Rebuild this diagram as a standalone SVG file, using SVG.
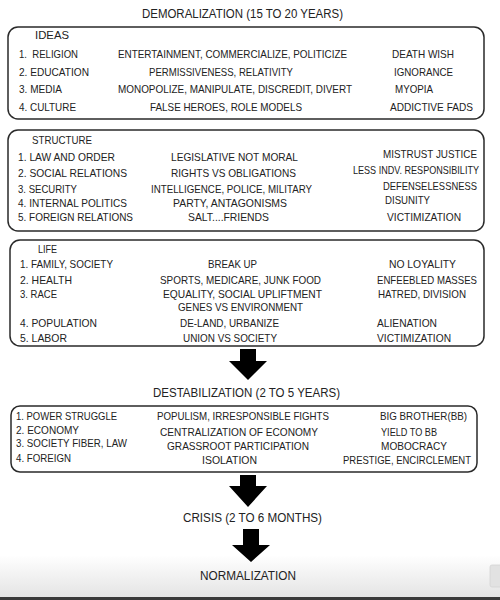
<svg xmlns="http://www.w3.org/2000/svg" width="500" height="600" viewBox="0 0 500 600">
  <defs>
    <style>
      text { font-family: "Liberation Sans", "DejaVu Sans", Arial, sans-serif; font-size: 10.5px; fill: #222; }
      .ttl { font-size: 12.5px; }
      .box { fill: #fff; stroke: #2a2a2a; stroke-width: 1.5; }
      .arrow { fill: #000; }
    </style>
    <linearGradient id="fade" x1="0" y1="0" x2="0" y2="1">
      <stop offset="0" stop-color="#ffffff"/>
      <stop offset="1" stop-color="#e4e4e4"/>
    </linearGradient>
  </defs>
  <rect width="500" height="600" fill="#fff"/>
  <rect x="0" y="555" width="500" height="42" fill="url(#fade)"/>
  <rect x="0" y="597" width="500" height="3" fill="#3a3a3a"/>
  <rect x="490" y="565" width="14" height="22" rx="2" fill="#e2e2e2" stroke="#d4d4d4" stroke-width="0.8"/>

  <g id="title-demoralization">
    <text class="ttl" x="142" y="18" textLength="201" lengthAdjust="spacingAndGlyphs">DEMORALIZATION (15 TO 20 YEARS)</text>
  </g>

  <g id="box-ideas">
    <rect class="box" x="8" y="27" width="476" height="92" rx="10"/>
    <text x="35" y="39" textLength="34" lengthAdjust="spacingAndGlyphs">IDEAS</text>
    <text x="19" y="58" textLength="59" lengthAdjust="spacingAndGlyphs" xml:space="preserve">1.  RELIGION</text>
    <text x="118" y="58" textLength="229" lengthAdjust="spacingAndGlyphs">ENTERTAINMENT, COMMERCIALIZE, POLITICIZE</text>
    <text x="392" y="58" textLength="62" lengthAdjust="spacingAndGlyphs">DEATH WISH</text>
    <text x="19" y="76" textLength="70" lengthAdjust="spacingAndGlyphs">2. EDUCATION</text>
    <text x="149" y="76" textLength="144" lengthAdjust="spacingAndGlyphs">PERMISSIVENESS, RELATIVITY</text>
    <text x="394" y="76" textLength="59" lengthAdjust="spacingAndGlyphs">IGNORANCE</text>
    <text x="19" y="93" textLength="43" lengthAdjust="spacingAndGlyphs">3. MEDIA</text>
    <text x="118" y="93" textLength="234" lengthAdjust="spacingAndGlyphs">MONOPOLIZE, MANIPULATE, DISCREDIT, DIVERT</text>
    <text x="395" y="93" textLength="38" lengthAdjust="spacingAndGlyphs">MYOPIA</text>
    <text x="19" y="111" textLength="57" lengthAdjust="spacingAndGlyphs">4. CULTURE</text>
    <text x="150" y="111" textLength="152" lengthAdjust="spacingAndGlyphs">FALSE HEROES, ROLE MODELS</text>
    <text x="390" y="111" textLength="83" lengthAdjust="spacingAndGlyphs">ADDICTIVE FADS</text>
  </g>

  <g id="box-structure">
    <rect class="box" x="8" y="130" width="476" height="101" rx="10"/>
    <text x="32" y="144" textLength="60" lengthAdjust="spacingAndGlyphs">STRUCTURE</text>
    <text x="18" y="161" textLength="97" lengthAdjust="spacingAndGlyphs">1. LAW AND ORDER</text>
    <text x="171" y="161" textLength="127" lengthAdjust="spacingAndGlyphs">LEGISLATIVE NOT MORAL</text>
    <text x="383" y="158" textLength="94" lengthAdjust="spacingAndGlyphs">MISTRUST JUSTICE</text>
    <text x="18" y="177" textLength="109" lengthAdjust="spacingAndGlyphs">2. SOCIAL RELATIONS</text>
    <text x="171" y="177" textLength="125" lengthAdjust="spacingAndGlyphs">RIGHTS VS OBLIGATIONS</text>
    <text x="353" y="174" textLength="126" lengthAdjust="spacingAndGlyphs">LESS INDV. RESPONSIBILITY</text>
    <text x="18" y="193" textLength="59" lengthAdjust="spacingAndGlyphs">3. SECURITY</text>
    <text x="151" y="193" textLength="161" lengthAdjust="spacingAndGlyphs">INTELLIGENCE, POLICE, MILITARY</text>
    <text x="383" y="190" textLength="94" lengthAdjust="spacingAndGlyphs">DEFENSELESSNESS</text>
    <text x="18" y="207" textLength="109" lengthAdjust="spacingAndGlyphs">4. INTERNAL POLITICS</text>
    <text x="173" y="207" textLength="114" lengthAdjust="spacingAndGlyphs">PARTY, ANTAGONISMS</text>
    <text x="385" y="204" textLength="45" lengthAdjust="spacingAndGlyphs">DISUNITY</text>
    <text x="18" y="221" textLength="115" lengthAdjust="spacingAndGlyphs">5. FOREIGN RELATIONS</text>
    <text x="188" y="221" textLength="81" lengthAdjust="spacingAndGlyphs">SALT....FRIENDS</text>
    <text x="387" y="221" textLength="74" lengthAdjust="spacingAndGlyphs">VICTIMIZATION</text>
  </g>

  <g id="box-life">
    <rect class="box" x="10" y="240" width="474" height="106" rx="10"/>
    <text x="38" y="253" textLength="19" lengthAdjust="spacingAndGlyphs">LIFE</text>
    <text x="20" y="268" textLength="93" lengthAdjust="spacingAndGlyphs">1. FAMILY, SOCIETY</text>
    <text x="208" y="268" textLength="49" lengthAdjust="spacingAndGlyphs">BREAK UP</text>
    <text x="389" y="268" textLength="67" lengthAdjust="spacingAndGlyphs">NO LOYALITY</text>
    <text x="20" y="284" textLength="52" lengthAdjust="spacingAndGlyphs">2. HEALTH</text>
    <text x="160" y="284" textLength="161" lengthAdjust="spacingAndGlyphs">SPORTS, MEDICARE, JUNK FOOD</text>
    <text x="377" y="284" textLength="100" lengthAdjust="spacingAndGlyphs">ENFEEBLED MASSES</text>
    <text x="20" y="298" textLength="37" lengthAdjust="spacingAndGlyphs">3. RACE</text>
    <text x="163" y="298" textLength="159" lengthAdjust="spacingAndGlyphs">EQUALITY, SOCIAL UPLIFTMENT</text>
    <text x="378" y="298" textLength="88" lengthAdjust="spacingAndGlyphs">HATRED, DIVISION</text>
    <text x="178" y="311" textLength="125" lengthAdjust="spacingAndGlyphs">GENES VS ENVIRONMENT</text>
    <text x="20" y="327" textLength="77" lengthAdjust="spacingAndGlyphs">4. POPULATION</text>
    <text x="180" y="327" textLength="99" lengthAdjust="spacingAndGlyphs">DE-LAND, URBANIZE</text>
    <text x="377" y="327" textLength="60" lengthAdjust="spacingAndGlyphs">ALIENATION</text>
    <text x="20" y="342" textLength="47" lengthAdjust="spacingAndGlyphs">5. LABOR</text>
    <text x="183" y="342" textLength="94" lengthAdjust="spacingAndGlyphs">UNION VS SOCIETY</text>
    <text x="377" y="342" textLength="74" lengthAdjust="spacingAndGlyphs">VICTIMIZATION</text>
  </g>

  <g id="title-destabilization">
    <text class="ttl" x="153" y="397" textLength="187" lengthAdjust="spacingAndGlyphs">DESTABILIZATION (2 TO 5 YEARS)</text>
  </g>

  <g id="box-destabilization">
    <rect class="box" x="11" y="406" width="466" height="66" rx="9"/>
    <text x="16" y="420" textLength="101" lengthAdjust="spacingAndGlyphs">1. POWER STRUGGLE</text>
    <text x="157" y="420" textLength="172" lengthAdjust="spacingAndGlyphs">POPULISM, IRRESPONSIBLE FIGHTS</text>
    <text x="380" y="420" textLength="87" lengthAdjust="spacingAndGlyphs">BIG BROTHER(BB)</text>
    <text x="16" y="434" textLength="63" lengthAdjust="spacingAndGlyphs">2. ECONOMY</text>
    <text x="160" y="436" textLength="158" lengthAdjust="spacingAndGlyphs">CENTRALIZATION OF ECONOMY</text>
    <text x="381" y="436" textLength="56" lengthAdjust="spacingAndGlyphs">YIELD TO BB</text>
    <text x="16" y="447" textLength="111" lengthAdjust="spacingAndGlyphs">3. SOCIETY FIBER, LAW</text>
    <text x="167" y="450" textLength="142" lengthAdjust="spacingAndGlyphs">GRASSROOT PARTICIPATION</text>
    <text x="381" y="450" textLength="66" lengthAdjust="spacingAndGlyphs">MOBOCRACY</text>
    <text x="16" y="462" textLength="55" lengthAdjust="spacingAndGlyphs">4. FOREIGN</text>
    <text x="202" y="464" textLength="55" lengthAdjust="spacingAndGlyphs">ISOLATION</text>
    <text x="343" y="464" textLength="128" lengthAdjust="spacingAndGlyphs">PRESTIGE, ENCIRCLEMENT</text>
  </g>

  <g id="title-crisis">
    <text class="ttl" x="183" y="522" textLength="139" lengthAdjust="spacingAndGlyphs">CRISIS (2 TO 6 MONTHS)</text>
  </g>

  <g id="title-normalization">
    <text class="ttl" x="200" y="580" textLength="96" lengthAdjust="spacingAndGlyphs">NORMALIZATION</text>
  </g>

  <g id="connectors">
    <polygon class="arrow" points="240,349 256,349 256,361 267,361 248,380 229,361 240,361"/>
    <polygon class="arrow" points="240,475 256,475 256,486 267,486 248,507 229,486 240,486"/>
    <polygon class="arrow" points="243,529 259,529 259,545 270,545 251,562 232,545 243,545"/>
  </g>
</svg>
